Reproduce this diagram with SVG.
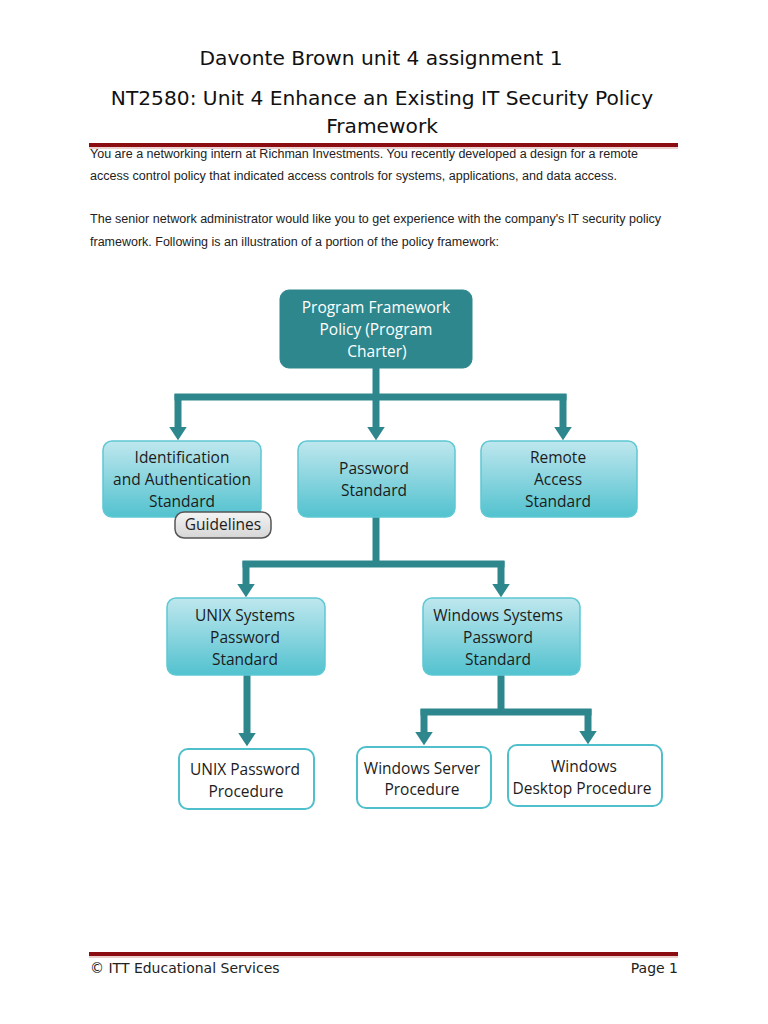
<svg xmlns="http://www.w3.org/2000/svg" width="768" height="1024" viewBox="0 0 768 1024">
<defs>
<linearGradient id="cy" x1="0" y1="0" x2="0" y2="1">
<stop offset="0" stop-color="#bfe7ee"/>
<stop offset="1" stop-color="#52c2cf"/>
</linearGradient>
<linearGradient id="gy" x1="0" y1="0" x2="0" y2="1">
<stop offset="0" stop-color="#f4f4f4"/>
<stop offset="1" stop-color="#d6d6d6"/>
</linearGradient>
<marker id="ah" viewBox="0 0 10 10" refX="0" refY="5" markerWidth="1.9" markerHeight="2.5" preserveAspectRatio="none" orient="auto" markerUnits="strokeWidth">
<path d="M0,0 L10,5 L0,10 z" fill="#2e878d"/>
</marker>
</defs>
<style>
.hd{font-family:"DejaVu Sans",sans-serif;font-size:20.2px;fill:#111;text-anchor:middle}
.bd{font-family:"Liberation Sans",Arial,sans-serif;font-size:12px;fill:#222}
.ft{font-family:"DejaVu Sans",sans-serif;font-size:14px;fill:#222}
.dk{fill:#2e878d;stroke:#2e878d;stroke-width:1}
.lt{fill:url(#cy);stroke:#5ec8d3;stroke-width:1.5}
.pr{fill:#fff;stroke:#4fbfcb;stroke-width:2}
.gd{fill:url(#gy);stroke:#555;stroke-width:1.5}
.tw{font-family:"Open Sans","Noto Sans",sans-serif;font-size:15.5px;fill:#fff;text-anchor:middle}
.tb{font-family:"Open Sans","Noto Sans",sans-serif;font-size:15.5px;fill:#1c1c1c;text-anchor:middle}
.cn{fill:none;stroke:#2e878d;stroke-width:7}
</style>
<rect width="768" height="1024" fill="#fff"/>
<text class="hd" x="381" y="65">Davonte Brown unit 4 assignment 1</text>
<text class="hd" x="382" y="105">NT2580: Unit 4 Enhance an Existing IT Security Policy</text>
<text class="hd" x="382" y="133">Framework</text>
<rect x="89" y="143" width="589" height="4" fill="#8b0d12"/>
<rect x="89" y="147.5" width="589" height="1" fill="#d9a0a0"/>
<text class="bd" x="90" y="158" textLength="548" lengthAdjust="spacingAndGlyphs">You are a networking intern at Richman Investments. You recently developed a design for a remote</text>
<text class="bd" x="90" y="180" textLength="527" lengthAdjust="spacingAndGlyphs">access control policy that indicated access controls for systems, applications, and data access.</text>
<text class="bd" x="90" y="223" textLength="571" lengthAdjust="spacingAndGlyphs">The senior network administrator would like you to get experience with the company's IT security policy</text>
<text class="bd" x="90" y="246" textLength="409" lengthAdjust="spacingAndGlyphs">framework. Following is an illustration of a portion of the policy framework:</text>
<g id="connectors">
<path class="cn" d="M376,368 V397 M174.5,397 H566.5"/>
<path class="cn" d="M178,394 V427" marker-end="url(#ah)"/>
<path class="cn" d="M376,394 V427" marker-end="url(#ah)"/>
<path class="cn" d="M563,394 V427" marker-end="url(#ah)"/>
<path class="cn" d="M376,517 V564 M242.5,564 H504.5"/>
<path class="cn" d="M246,561 V584" marker-end="url(#ah)"/>
<path class="cn" d="M501,561 V584" marker-end="url(#ah)"/>
<path class="cn" d="M247,675 V733" marker-end="url(#ah)"/>
<path class="cn" d="M501,675 V712 M420.5,712 H591.5"/>
<path class="cn" d="M424,709 V732" marker-end="url(#ah)"/>
<path class="cn" d="M588,709 V731" marker-end="url(#ah)"/>
</g>
<g id="n-program">
<rect class="dk" x="280" y="290" width="192" height="78" rx="9"/>
<text class="tw" x="376" y="313">Program Framework</text>
<text class="tw" x="376" y="335">Policy (Program</text>
<text class="tw" x="377" y="357">Charter)</text>
</g>
<g id="n-ident">
<rect class="lt" x="103" y="441" width="158" height="76" rx="9"/>
<text class="tb" x="182" y="463">Identification</text>
<text class="tb" x="182" y="485">and Authentication</text>
<text class="tb" x="182" y="507">Standard</text>
</g>
<g id="n-guidelines">
<rect class="gd" x="175" y="512" width="96" height="26" rx="9"/>
<text class="tb" x="223" y="530">Guidelines</text>
</g>
<g id="n-password">
<rect class="lt" x="298" y="441" width="157" height="76" rx="9"/>
<text class="tb" x="374" y="474">Password</text>
<text class="tb" x="374" y="496">Standard</text>
</g>
<g id="n-remote">
<rect class="lt" x="481" y="441" width="156" height="76" rx="9"/>
<text class="tb" x="558" y="463">Remote</text>
<text class="tb" x="558" y="485">Access</text>
<text class="tb" x="558" y="507">Standard</text>
</g>
<g id="n-unixstd">
<rect class="lt" x="167" y="598" width="158" height="77" rx="9"/>
<text class="tb" x="245" y="621">UNIX Systems</text>
<text class="tb" x="245" y="643">Password</text>
<text class="tb" x="245" y="665">Standard</text>
</g>
<g id="n-winstd">
<rect class="lt" x="423" y="598" width="157" height="77" rx="9"/>
<text class="tb" x="498" y="621">Windows Systems</text>
<text class="tb" x="498" y="643">Password</text>
<text class="tb" x="498" y="665">Standard</text>
</g>
<g id="n-unixproc">
<rect class="pr" x="179" y="749" width="135" height="60" rx="9"/>
<text class="tb" x="245" y="775">UNIX Password</text>
<text class="tb" x="246" y="797">Procedure</text>
</g>
<g id="n-winserver">
<rect class="pr" x="357" y="747" width="134" height="61" rx="9"/>
<text class="tb" x="422" y="774">Windows Server</text>
<text class="tb" x="422" y="795">Procedure</text>
</g>
<g id="n-windesktop">
<rect class="pr" x="508" y="745" width="154" height="61" rx="9"/>
<text class="tb" x="584" y="772">Windows</text>
<text class="tb" x="582" y="794">Desktop Procedure</text>
</g>
<rect x="89" y="952" width="589" height="4" fill="#8b0d12"/>
<rect x="89" y="956.5" width="589" height="1" fill="#d9a0a0"/>
<text class="ft" x="90" y="973">© ITT Educational Services</text>
<text class="ft" x="678" y="973" text-anchor="end">Page 1</text>
</svg>
